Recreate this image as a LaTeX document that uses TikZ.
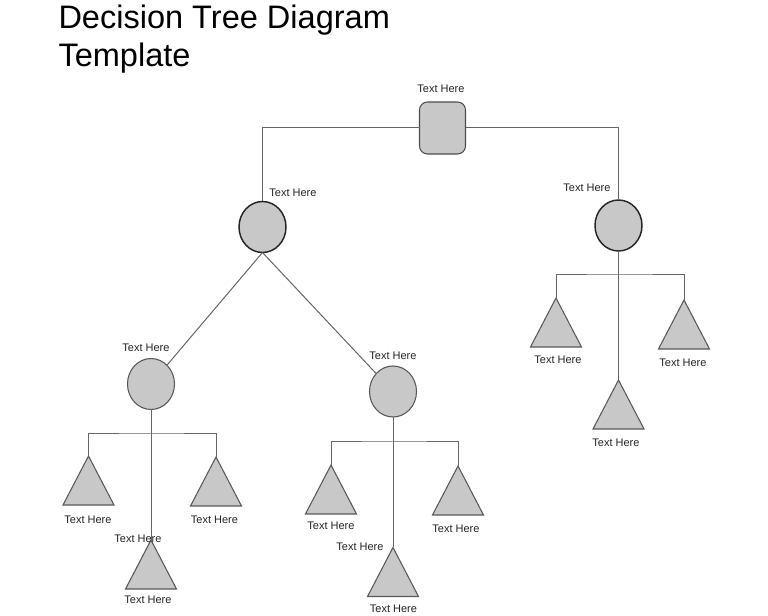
\documentclass[tikz,border=0pt]{standalone}
\usepackage{fontspec}
\setmainfont{Liberation Sans}
\usetikzlibrary{shapes.geometric}
\definecolor{fillg}{HTML}{C8C8C8}
\def\px{0.75pt}
\tikzset{
  every node/.style={inner sep=0pt, outer sep=0pt},
  lbl/.style={font=\fontsize{8.25}{10}\selectfont, text=black!85},
  ttl/.style={font=\fontsize{24.4}{28}\selectfont, anchor=base west},
  chance/.style={ellipse, draw=black!85, line width=1.1pt, fill=fillg,
    minimum width=47*\px, minimum height=51*\px},
  chancelt/.style={chance, draw=black!65, line width=0.8pt},
  decision/.style={rectangle, rounded corners=6pt, draw=black!70, line width=0.8pt,
    fill=fillg, minimum width=46*\px, minimum height=52*\px},
  endn/.style={isosceles triangle, isosceles triangle stretches, shape border rotate=90,
    draw=black!65, line width=0.8pt, fill=fillg,
    minimum width=51*\px, minimum height=49*\px, anchor=apex},
  conn/.style={draw=black!60, line width=0.75pt},
}
\begin{document}
\begin{tikzpicture}[x=0.75pt, y=-0.75pt]
\fill[white] (0,0) rectangle (768,616);
\useasboundingbox (0,0) rectangle (768,616);

% title
\node[ttl] (title1) at (58.5,28.5) {Decision Tree Diagram};
\node[ttl] (title2) at (58.5,66.5) {Template};

% nodes
\node[decision] (root) at (442.5,128) {};
\node[chance] (c1) at (262.5,227) {};
\node[chance] (c2) at (618.5,225.5) {};
\node[chancelt] (c3) at (151,384) {};
\node[chancelt] (c4) at (393,391.5) {};

\node[endn] (r1) at (556,298) {};
\node[endn] (r2) at (684,300) {};
\node[endn] (r3) at (618.5,380) {};
\node[endn] (l1) at (88.5,456) {};
\node[endn] (l2) at (216,457) {};
\node[endn] (l3) at (151,540) {};
\node[endn] (m1) at (331,465) {};
\node[endn] (m2) at (458,466) {};
\node[endn] (m3) at (393,547.5) {};

% bar coordinates
\coordinate (b2) at (618.5,275);
\coordinate (b3) at (151,434);
\coordinate (b4) at (393,442);

% connectors
\draw[conn] (root.west) -| (c1.north);
\draw[conn] (root.east) -| (c2.north);
\draw[conn] (c1.south) -- (c3);
\draw[conn] (c1.south) -- (c4);
\draw[conn] (r1.apex) |- (b2) -| (r2.apex);
\draw[conn] (c2.south) -- (r3.apex);
\draw[conn] (l1.apex) |- (b3) -| (l2.apex);
\draw[conn] (c3.south) -- (l3.apex);
\draw[conn] (m1.apex) |- (b4) -| (m2.apex);
\draw[conn] (c4.south) -- (m3.apex);

% labels
\node[lbl] (troot) at (441,89) {Text Here};
\node[lbl] (tc1) at (293,193) {Text Here};
\node[lbl] (tc2) at (587,188) {Text Here};
\node[lbl] (tc3) at (146,348) {Text Here};
\node[lbl] (tc4) at (393,355.5) {Text Here};
\node[lbl] (tr1) at (558,360) {Text Here};
\node[lbl] (tr2) at (683,363) {Text Here};
\node[lbl] (tr3) at (616,443) {Text Here};
\node[lbl] (tl1) at (88,519.5) {Text Here};
\node[lbl] (tl2) at (214.5,520) {Text Here};
\node[lbl] (tl3a) at (138,538.5) {Text Here};
\node[lbl] (tl3) at (148,600) {Text Here};
\node[lbl] (tm1) at (331,526) {Text Here};
\node[lbl] (tm2) at (456,529) {Text Here};
\node[lbl] (tm3a) at (360,547) {Text Here};
\node[lbl] (tm3) at (393.5,608.5) {Text Here};
\end{tikzpicture}
\end{document}
